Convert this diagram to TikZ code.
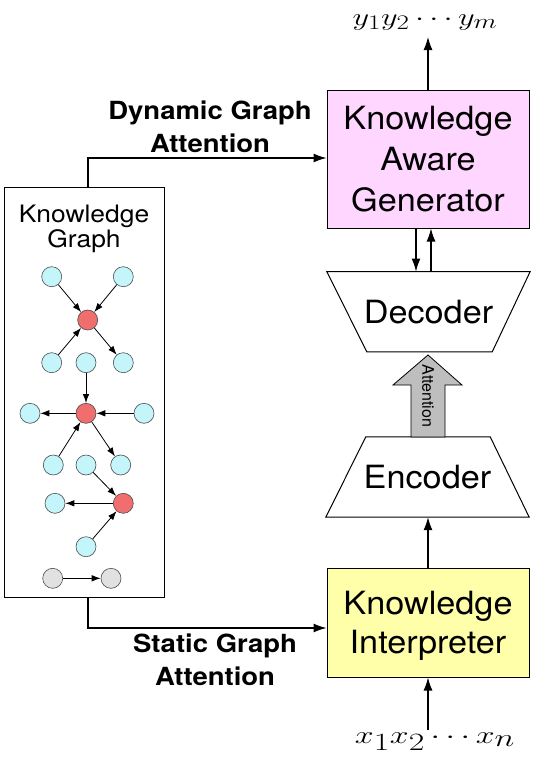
\documentclass[tikz,border=0pt]{standalone}
\usepackage{fontspec}
\setmainfont{TeX Gyre Heros}
\usepackage{graphicx}
\usetikzlibrary{arrows.meta}
\definecolor{kagpink}{RGB}{255,214,255}
\definecolor{kiyellow}{RGB}{255,255,170}
\definecolor{cyanode}{RGB}{195,245,250}
\definecolor{rednode}{RGB}{240,110,110}
\definecolor{graynode}{RGB}{225,225,225}
\definecolor{blockgray}{RGB}{190,190,190}
\newcommand{\sxa}[1]{\scalebox{1.07}[1]{#1}}
\newcommand{\sxb}[1]{\scalebox{1.1}[1]{#1}}
\begin{document}
\begin{tikzpicture}[x=1pt,y=-1pt,
  bigbox/.style={draw, line width=1pt, minimum width=202pt, inner sep=0pt, align=center, text depth=0pt, font=\fontsize{32}{41}\selectfont},
  trap/.style={minimum width=203pt, minimum height=80pt, inner sep=0pt, font=\fontsize{32}{41}\selectfont},
  arr/.style={line width=1.2pt, -{Latex[length=13pt,width=9pt]}},
  lab/.style={inner sep=0pt, align=center, text depth=0pt, font=\fontsize{25}{33}\selectfont\bfseries},
  gnode/.style={circle, draw=black!70, line width=0.6pt, minimum size=20pt, inner sep=0pt},
  cn/.style={gnode, fill=cyanode},
  rn/.style={gnode, fill=rednode},
  gn/.style={gnode, fill=graynode},
  garr/.style={line width=0.8pt, -{Latex[length=9pt,width=6.5pt]}},
]
\useasboundingbox (0,0) rectangle (533,763);

% main boxes
\node[bigbox, fill=kagpink, minimum height=138pt] (kag) at (428,159)
  {\sxa{Knowledge}\\\sxa{Aware}\\\sxa{Generator}};
\node[trap] (dec) at (428.5,311.7) {\sxa{Decoder}};
\draw[line width=1pt] (dec.north west) -- (dec.north east) -- ([xshift=-38pt]dec.south east) -- ([xshift=40pt]dec.south west) -- cycle;
\node[trap] (enc) at (427.5,477) {\sxa{Encoder}};
\draw[line width=1pt] ([xshift=40pt]enc.north west) -- ([xshift=-39pt]enc.north east) -- (enc.south east) -- (enc.south west) -- cycle;
\node[bigbox, fill=kiyellow, minimum height=109pt, font=\fontsize{32}{39}\selectfont] (ki) at (428,622.5)
  {\sxa{Knowledge}\\\sxa{Interpreter}};

% attention block arrow
\draw[line width=0.8pt, fill=blockgray] (411,437) -- (411,385) -- (393,385) -- (428,355) -- (462,385) -- (445,385) -- (445,437) -- cycle;
\node[rotate=-90, inner sep=0pt, font=\fontsize{16}{18}\selectfont] (att) at (428,396) {Attention};

% input / output
\node[inner sep=0pt, anchor=base, font=\fontsize{32}{36}\selectfont] (ys) at (425,25) {\scalebox{1.3}[1]{$y_1y_2\cdots y_m$}};
\node[inner sep=0pt, anchor=base, font=\fontsize{33}{36}\selectfont] (xs) at (435,743) {\scalebox{1.36}[1]{$x_1x_2\cdots x_n$}};
\coordinate (ytip) at (428,37);
\coordinate (xtail) at (428,730);

% knowledge graph box
\node[draw, line width=1pt, minimum width=160pt, minimum height=410pt, inner sep=0pt] (kg) at (84,392) {};
\node[inner sep=0pt, align=center, text depth=0pt, font=\fontsize{24}{25}\selectfont] (kgl) at (84,226)
  {\sxb{Knowledge}\\\sxb{Graph}};

% graph nodes
\node[cn] (c1) at (51.7,276.7) {};
\node[cn] (c2) at (123.3,276.7) {};
\node[rn] (r1) at (87.7,320) {};
\node[cn] (c3) at (51.7,362.7) {};
\node[cn] (c4) at (86,362.7) {};
\node[cn] (c5) at (123.3,362.7) {};
\node[rn] (r2) at (86,413.3) {};
\node[cn] (c6) at (30,413.3) {};
\node[cn] (c7) at (144,413.3) {};
\node[cn] (c8) at (53.3,465) {};
\node[cn] (c9) at (86,465) {};
\node[cn] (c10) at (120.7,465) {};
\node[rn] (r3) at (123.3,503.3) {};
\node[cn] (c11) at (55,503.3) {};
\node[cn] (c12) at (86,546.7) {};
\node[gn] (g1) at (52.7,578.3) {};
\node[gn] (g2) at (111,578.3) {};

\draw[garr] (c1) -- (r1);
\draw[garr] (c2) -- (r1);
\draw[garr] (c3) -- (r1);
\draw[garr] (r1) -- (c5);
\draw[garr] (c4) -- (r2);
\draw[garr] (r2) -- (c6);
\draw[garr] (c7) -- (r2);
\draw[garr] (c8) -- (r2);
\draw[garr] (r2) -- (c10);
\draw[garr] (c9) -- (r3);
\draw[garr] (r3) -- (c11);
\draw[garr] (c12) -- (r3);
\draw[garr] (g1) -- (g2);

% connectors
\draw[arr] ([xshift=4pt]kg.north) |- ([yshift=1pt]kag.west);
\draw[arr] ([xshift=4pt]kg.south) |- ([yshift=-5.5pt]ki.west);
\draw[arr] ([xshift=-12pt]kag.south) -- ([xshift=-12.5pt]dec.north);
\draw[arr] ([xshift=2.5pt]dec.north) -- ([xshift=3pt]kag.south);
\draw[arr] (ki.north) -- (ki.north |- enc.south);
\draw[arr] (xtail) -- (ki.south);
\draw[arr] (kag.north) -- (ytip);

% labels
\node[lab] (dyn) at (210,126.6) {\sxb{Dynamic Graph}\\\sxb{Attention}};
\node[lab] (sta) at (215,659.8) {\sxb{Static Graph}\\\sxb{Attention}};
\end{tikzpicture}
\end{document}
